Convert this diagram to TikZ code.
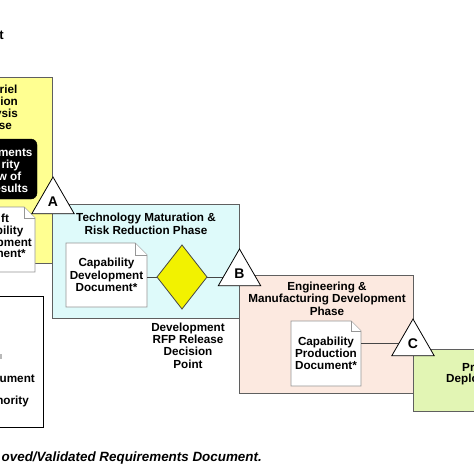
\documentclass[tikz,border=0pt]{standalone}
\usepackage{fontspec}
\setmainfont{Liberation Sans}
\usetikzlibrary{shapes.geometric,calc}
\definecolor{msafill}{RGB}{255,255,145}
\definecolor{tmrrfill}{RGB}{222,250,250}
\definecolor{emdfill}{RGB}{252,233,224}
\definecolor{pdfill}{RGB}{226,245,180}
\definecolor{diafill}{RGB}{242,242,0}
\definecolor{edgegray}{RGB}{95,95,95}
\definecolor{docgray}{RGB}{150,150,150}
\definecolor{conngray}{RGB}{70,70,70}
\definecolor{markgray}{RGB}{185,185,185}
\pgfdeclarelayer{bg}
\pgfdeclarelayer{mid}
\pgfsetlayers{bg,mid,main}
\newcommand\lblfont{\bfseries\fontsize{11.7}{12.2}\selectfont}
\newcommand\docoutline[2]{%
  \filldraw[docline] (#1.south west) -- (#1.north west) -- ([xshift=-#2pt]#1.north east)
    -- ([yshift=-#2pt]#1.north east) -- (#1.south east) -- cycle;
  \draw[docline] ([xshift=-#2pt]#1.north east) -- ([xshift=-#2pt,yshift=-#2pt]#1.north east)
    -- ([yshift=-#2pt]#1.north east);}
\begin{document}
\begin{tikzpicture}[x=1pt,y=-1pt,
  phase/.style={rectangle, inner sep=0pt, outer sep=0pt, line width=0.8pt, draw=edgegray},
  docbox/.style={rectangle, inner sep=0pt, outer sep=0pt, font=\lblfont, align=center},
  docline/.style={draw=docgray, fill=white, line width=0.8pt},
  milestone/.style={regular polygon, regular polygon sides=3, minimum size=49pt,
    inner sep=0pt, outer sep=0pt, draw=black, fill=white, line width=0.8pt,
    font=\bfseries\fontsize{14}{14}\selectfont},
  lbl/.style={inner sep=0pt, font=\lblfont, align=center},
  frag/.style={inner sep=0pt, font=\lblfont, anchor=base east},
  conn/.style={draw=conngray, line width=0.8pt}]
\useasboundingbox (0,0) rectangle (474,474);
\begin{pgfonlayer}{bg}
  \fill[white] (0,0) rectangle (474,474);
  \node[phase, fill=msafill, minimum width=63pt, minimum height=186pt] (msa) at (21,170) {};
  \node[phase, fill=tmrrfill, minimum width=187pt, minimum height=114pt] (tmrr) at (146,261) {};
  \node[phase, fill=emdfill, minimum width=173.5pt, minimum height=118pt] (emd) at (326.25,334) {};
  \node[phase, fill=pdfill, minimum width=77pt, minimum height=62pt] (pd) at (451.5,380) {};
  \node[phase, fill=white, draw=black, line width=1pt, minimum width=53pt, minimum height=131pt] (legend) at (16.5,361.5) {};
\end{pgfonlayer}

% top fragment
\node[frag, font=\bfseries\fontsize{13}{13}\selectfont] (topt) at (4,39) {t};

% Materiel Solution Analysis Phase (cut)
\node[frag] (msa1) at (17.5,93) {riel};
\node[frag] (msa2) at (18,105) {ion};
\node[frag] (msa3) at (18,117) {ysis};
\node[frag] (msa4) at (12,129) {se};

% black box
\node[rectangle, rounded corners=6pt, fill=black, draw=black, minimum width=57pt, minimum height=60pt, inner sep=0pt, outer sep=0pt] (rar) at (8.5,169) {};
\node[frag, text=white] (rar1) at (32.7,156) {ments};
\node[frag, text=white] (rar2) at (20,168) {rity};
\node[frag, text=white] (rar3) at (21.5,180) {w of};
\node[frag, text=white] (rar4) at (28.3,192) {esults};

% documents
\node[docbox, minimum width=55pt, minimum height=65pt] (draft) at (7.5,239.5) {};
\node[docbox, minimum width=81pt, minimum height=64pt] (cdd) at (106.5,275) {Capability\\Development\\Document*};
\node[docbox, minimum width=70pt, minimum height=65pt] (cpd) at (326,353.5) {Capability\\Production\\Document*};
\node[frag] (draft1) at (9.2,222) {ft};
\node[frag] (draft2) at (23.5,234) {ability};
\node[frag] (draft3) at (32,246) {lopment};
\node[frag] (draft4) at (26,257.5) {ment*};

% diamond
\node[diamond, fill=diafill, draw=conngray, line width=0.8pt, minimum width=50pt, minimum height=64pt, inner sep=0pt, outer sep=0pt] (drfp) at (182,277) {};

% milestones
\node[milestone] (A) at (53,201.5) {A};
\node[milestone] (B) at (239.5,273.5) {B};
\node[milestone] (C) at (413,343.5) {C};

% titles (base anchor = baseline of last line)
\node[lbl, anchor=base] (tmrrtitle) at (146,234) {Technology Maturation \&\\Risk Reduction Phase};
\node[lbl, anchor=base] (emdtitle) at (327,315) {Engineering \&\\Manufacturing Development\\Phase};
\node[lbl, anchor=base] (drfplbl) at (188,368) {Development\\RFP Release\\Decision\\Point};
\node[inner sep=0pt, font=\lblfont, anchor=base west] (pd1) at (462,371) {Pr};
\node[inner sep=0pt, font=\lblfont, anchor=base west] (pd2) at (446,382.5) {Deplo};

% legend fragments
\fill[markgray] (0,354) rectangle (2.2,358.5);
\node[frag] (leg1) at (35,382) {ument};
\node[frag] (leg2) at (29,404) {hority};

% caption
\node[inner sep=0pt, anchor=base east, font=\bfseries\itshape\fontsize{13.4}{13.4}\selectfont] (caption) at (262,461) {oved/Validated Requirements Document.};

\begin{pgfonlayer}{mid}
  \docoutline{draft}{11}
  \docoutline{cdd}{12}
  \docoutline{cpd}{10}
  \draw[conn] (cdd.east |- drfp.west) -- (drfp.west);
  \draw[conn] (drfp.east) -- (drfp.east -| B.center);
  \draw[conn] (cpd.east |- C.center) -- (C.center);
\end{pgfonlayer}
\end{tikzpicture}
\end{document}
